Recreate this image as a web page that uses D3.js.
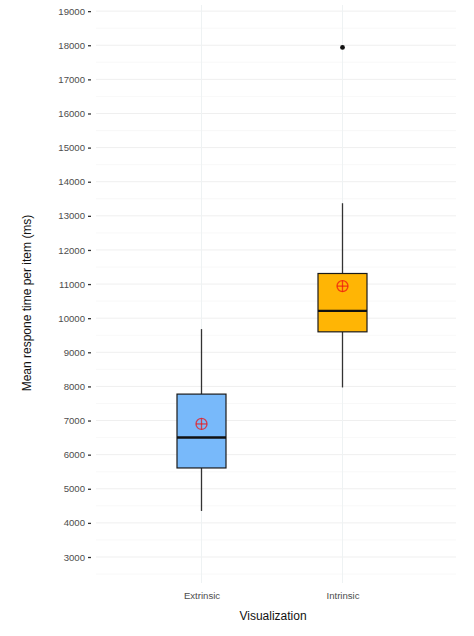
<!DOCTYPE html>
<html>
<head>
<meta charset="utf-8">
<script src="https://cdn.jsdelivr.net/npm/d3@7"></script>
<style>
  body { margin: 0; background: #fff; }
  svg { display: block; font-family: "Liberation Sans", Arial, sans-serif; }
</style>
</head>
<body>
<div id="chart"></div>
<script>
// data
var categories = ["Extrinsic", "Intrinsic"];
var whiskerLow = [4350, 7970];
var q1 = [5610, 9600];
var median = [6505, 10215];
var q3 = [7775, 11310];
var whiskerHigh = [9680, 13370];
var means = [6900, 10940];
var outliers = [[], [17935]];
var boxFill = ["#78b9fa", "#ffb505"];
var yTicks = d3.range(3000, 19001, 1000);

var svgWidth = 474, svgHeight = 636;
var margin = { top: 5, right: 18, bottom: 53, left: 96 };
var chartWidth = svgWidth - margin.left - margin.right;
var chartHeight = svgHeight - margin.top - margin.bottom;

var svg = d3.select("#chart")
    .append("svg")
    .attr("width", svgWidth)
    .attr("height", svgHeight);

var chartGroup = svg.append("g")
    .attr("transform", `translate(${margin.left}, ${margin.top})`);

// scales
var yScale = d3.scaleLinear()
    .domain([2238, 19180])
    .range([chartHeight, 0]);

var xScale = d3.scalePoint()
    .domain(categories)
    .range([105.5, 246.5]);

var boxWidth = 49;

// minor grid
var minorTicks = d3.range(2500, 19001, 1000);
chartGroup.selectAll(".minor")
    .data(minorTicks)
    .enter()
    .append("line")
    .attr("x1", 0)
    .attr("x2", chartWidth)
    .attr("y1", d => yScale(d))
    .attr("y2", d => yScale(d))
    .attr("stroke", "#f6f6f6")
    .attr("stroke-width", 0.8);

// major grid
chartGroup.selectAll(".major")
    .data(yTicks)
    .enter()
    .append("line")
    .attr("x1", 0)
    .attr("x2", chartWidth)
    .attr("y1", d => yScale(d))
    .attr("y2", d => yScale(d))
    .attr("stroke", "#efefef")
    .attr("stroke-width", 1);

chartGroup.selectAll(".vgrid")
    .data(categories)
    .enter()
    .append("line")
    .attr("x1", d => xScale(d))
    .attr("x2", d => xScale(d))
    .attr("y1", 0)
    .attr("y2", chartHeight)
    .attr("stroke", "#eef2f3")
    .attr("stroke-width", 1);

// y axis
var leftAxis = d3.axisLeft(yScale)
    .tickValues(yTicks)
    .tickSize(3)
    .tickPadding(3)
    .tickFormat(d3.format("d"));

var yAxisG = chartGroup.append("g")
    .attr("transform", "translate(-5,0)")
    .call(leftAxis);
yAxisG.select(".domain").remove();
yAxisG.selectAll(".tick line").attr("stroke", "#333").attr("stroke-width", 1.3);
yAxisG.selectAll(".tick text")
    .attr("fill", "#4d4d4d")
    .attr("font-size", "9.6px")
    .attr("font-family", "Liberation Sans, Arial, sans-serif");

// x axis
var bottomAxis = d3.axisBottom(xScale).tickSize(0).tickPadding(9);
var xAxisG = chartGroup.append("g")
    .attr("transform", `translate(0, ${chartHeight})`)
    .call(bottomAxis);
xAxisG.select(".domain").remove();
xAxisG.selectAll(".tick text")
    .attr("fill", "#4d4d4d")
    .attr("font-size", "9.6px")
    .attr("font-family", "Liberation Sans, Arial, sans-serif");

// boxes
var boxData = categories.map(function(c, i) {
    return {
        cat: c, lo: whiskerLow[i], q1: q1[i], med: median[i], q3: q3[i],
        hi: whiskerHigh[i], mean: means[i], out: outliers[i], fill: boxFill[i]
    };
});

var boxes = chartGroup.selectAll(".box")
    .data(boxData)
    .enter()
    .append("g");

boxes.append("line")
    .attr("x1", d => xScale(d.cat))
    .attr("x2", d => xScale(d.cat))
    .attr("y1", d => yScale(d.hi))
    .attr("y2", d => yScale(d.q3))
    .attr("stroke", "#333")
    .attr("stroke-width", 1.3);

boxes.append("line")
    .attr("x1", d => xScale(d.cat))
    .attr("x2", d => xScale(d.cat))
    .attr("y1", d => yScale(d.q1))
    .attr("y2", d => yScale(d.lo))
    .attr("stroke", "#333")
    .attr("stroke-width", 1.3);

boxes.append("rect")
    .attr("x", d => xScale(d.cat) - boxWidth / 2)
    .attr("width", boxWidth)
    .attr("y", d => yScale(d.q3))
    .attr("height", d => yScale(d.q1) - yScale(d.q3))
    .attr("fill", d => d.fill)
    .attr("stroke", "#1a1a1a")
    .attr("stroke-width", 1.2);

boxes.append("line")
    .attr("x1", d => xScale(d.cat) - boxWidth / 2)
    .attr("x2", d => xScale(d.cat) + boxWidth / 2)
    .attr("y1", d => yScale(d.med))
    .attr("y2", d => yScale(d.med))
    .attr("stroke", "#111")
    .attr("stroke-width", 2.4);

// outliers
boxes.selectAll(".out")
    .data(d => d.out.map(v => ({ cat: d.cat, v: v })))
    .enter()
    .append("circle")
    .attr("cx", d => xScale(d.cat))
    .attr("cy", d => yScale(d.v))
    .attr("r", 2.4)
    .attr("fill", "#111");

// mean markers (circle with plus), red drawn semi-transparent
var r = 5.5;
var meanG = boxes.append("g")
    .attr("transform", d => `translate(${xScale(d.cat)}, ${yScale(d.mean)})`)
    .attr("stroke", "#ee1111")
    .attr("stroke-opacity", 0.72)
    .attr("stroke-width", 1.3)
    .attr("fill", "none");
meanG.append("circle").attr("r", r);
meanG.append("line").attr("x1", -r).attr("x2", r);
meanG.append("line").attr("y1", -r).attr("y2", r);

// axis labels
svg.append("text")
    .attr("transform", `translate(31, ${margin.top + chartHeight / 2 + 9}) rotate(-90)`)
    .attr("text-anchor", "middle")
    .attr("font-size", "12px")
    .attr("fill", "#111")
    .text("Mean respone time per item (ms)");

svg.append("text")
    .attr("x", 273)
    .attr("y", 620)
    .attr("text-anchor", "middle")
    .attr("font-size", "12px")
    .attr("fill", "#111")
    .text("Visualization");
</script>
</body>
</html>
